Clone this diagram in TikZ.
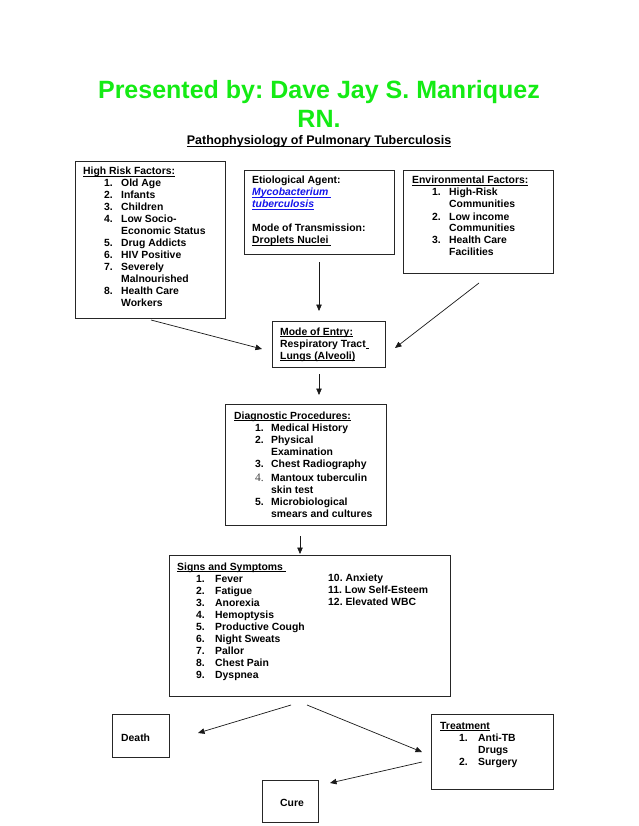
\documentclass[tikz,border=0pt]{standalone}
\usepackage{fontspec}
\setmainfont{Liberation Sans}
\newfontfamily\fourfont{Liberation Serif}
\usetikzlibrary{arrows.meta}
\definecolor{titlegreen}{RGB}{20,235,20}
\definecolor{linkblue}{RGB}{20,20,235}
\newsavebox\ulbox
\newcommand\ulx[1]{\sbox\ulbox{#1}\rlap{\rule[-1.7pt]{\wd\ulbox}{0.7pt}}\usebox\ulbox}
\newlength\numind
\newlength\txtind
\newcommand\li[2]{\makebox[\txtind][l]{\hspace{\numind}#1}#2}
\newcommand\lc[1]{\hspace{\txtind}#1}
\frenchspacing
\begin{document}
\begin{tikzpicture}[x=1pt,y=-1pt,
  box/.style={draw=black!85,line width=0.8pt,inner sep=0pt,anchor=north west},
  txt/.style={inner sep=0pt,anchor=base west,text=black,font=\fontsize{10.4}{12}\selectfont\bfseries},
  arr/.style={draw=black!90,line width=0.7pt,-{Triangle[length=6.5pt,width=5.5pt]}}]
\useasboundingbox[fill=white] (0,0) rectangle (638,826);
% title
\node[inner sep=0pt,anchor=base,text=titlegreen,font=\fontsize{25}{28}\selectfont\bfseries] (title1) at (319,99) {Presented by: Dave Jay S. Manriquez};
\node[inner sep=0pt,anchor=base,text=titlegreen,font=\fontsize{25}{28}\selectfont\bfseries] (title2) at (319,128) {RN.};
\node[inner sep=0pt,anchor=base,font=\fontsize{12.5}{14}\selectfont\bfseries] (sub) at (319,145) {\ulx{Pathophysiology of Pulmonary Tuberculosis}};
% boxes
\node[box,minimum width=150pt,minimum height=157pt] (hrf) at (75,161) {};
\node[box,minimum width=150pt,minimum height=84pt] (ea) at (244,170) {};
\node[box,minimum width=150pt,minimum height=103pt] (envf) at (403,170) {};
\node[box,minimum width=113pt,minimum height=46pt] (moe) at (272,321) {};
\node[box,minimum width=161pt,minimum height=121pt] (dp) at (225,404) {};
\node[box,minimum width=281pt,minimum height=141pt] (ss) at (169,555) {};
\node[box,minimum width=57pt,minimum height=43pt] (death) at (112,714) {};
\node[box,minimum width=122pt,minimum height=75pt] (treat) at (431,714) {};
\node[box,minimum width=56pt,minimum height=42pt] (cure) at (262,780) {};
% texts
\node[txt] (hrft) at (83,175) {\setlength\numind{21pt}\setlength\txtind{38pt}%
\begin{tabular}[t]{@{}l@{}}\ulx{High Risk Factors:}\\ \li{1.}{Old Age}\\ \li{2.}{Infants}\\ \li{3.}{Children}\\ \li{4.}{Low Socio-}\\ \lc{Economic Status}\\ \li{5.}{Drug Addicts}\\ \li{6.}{HIV Positive}\\ \li{7.}{Severely}\\ \lc{Malnourished}\\ \li{8.}{Health Care}\\ \lc{Workers}\end{tabular}};
\node[txt] (eat) at (252,184) {\begin{tabular}[t]{@{}l@{}}Etiological Agent:\\ \textcolor{linkblue}{\ulx{\itshape Mycobacterium\ }}\\ \textcolor{linkblue}{\ulx{\itshape tuberculosis}}\\ \\ Mode of Transmission:\\ \ulx{Droplets Nuclei\ }\end{tabular}};
\node[txt] (envt) at (412,184) {\setlength\numind{20pt}\setlength\txtind{37pt}%
\begin{tabular}[t]{@{}l@{}}\ulx{Environmental Factors:}\\ \li{1.}{High-Risk}\\ \lc{Communities}\\ \li{2.}{Low income}\\ \lc{Communities}\\ \li{3.}{Health Care}\\ \lc{Facilities}\end{tabular}};
\node[txt] (moet) at (280,335) {\begin{tabular}[t]{@{}l@{}}\ulx{Mode of Entry:}\\ Respiratory Tract\ulx{\ }\\ \ulx{Lungs (Alveoli)}\end{tabular}};
\node[txt] (dpt) at (234,419) {\setlength\numind{21pt}\setlength\txtind{37pt}%
\begin{tabular}[t]{@{}l@{}}\ulx{Diagnostic Procedures:}\\ \li{1.}{Medical History}\\ \li{2.}{Physical}\\ \lc{Examination}\\ \li{3.}{Chest Radiography}\\[2pt] \li{{\fourfont\mdseries\fontsize{11.5}{12}\selectfont\color{black!75}4.}}{Mantoux tuberculin}\\ \lc{skin test}\\ \li{5.}{Microbiological}\\ \lc{smears and cultures}\end{tabular}};
\node[txt] (sst) at (177,570) {\setlength\numind{19pt}\setlength\txtind{38pt}%
\begin{tabular}[t]{@{}l@{}}\ulx{Signs and Symptoms\ }\\ \li{1.}{Fever}\\ \li{2.}{Fatigue}\\ \li{3.}{Anorexia}\\ \li{4.}{Hemoptysis}\\ \li{5.}{Productive Cough}\\ \li{6.}{Night Sweats}\\ \li{7.}{Pallor}\\ \li{8.}{Chest Pain}\\ \li{9.}{Dyspnea}\end{tabular}};
\node[txt] (sst2) at (328,581) {\begin{tabular}[t]{@{}l@{}}10. Anxiety\\ 11. Low Self-Esteem\\ 12. Elevated WBC\end{tabular}};
\node[txt] (deatht) at (121,741) {Death};
\node[txt] (treatt) at (440,729) {\setlength\numind{19pt}\setlength\txtind{38pt}%
\begin{tabular}[t]{@{}l@{}}\ulx{Treatment}\\ \li{1.}{Anti-TB}\\ \lc{Drugs}\\ \li{2.}{Surgery}\end{tabular}};
\node[txt] (curet) at (280,806) {Cure};
% arrow ends
\coordinate (a1s) at (319,262); \coordinate (a1e) at (319,311);
\coordinate (a2s) at (151,320); \coordinate (a2e) at (262,349);
\coordinate (a3s) at (479,283); \coordinate (a3e) at (395,348);
\coordinate (a4s) at (319,374); \coordinate (a4e) at (319,395);
\coordinate (a5s) at (300,536); \coordinate (a5e) at (300,554);
\coordinate (a6s) at (291,705); \coordinate (a6e) at (198,733);
\coordinate (a7s) at (307,705); \coordinate (a7e) at (422,752);
\coordinate (a8s) at (422,762); \coordinate (a8e) at (330,783);
\draw[arr] (a1s) -- (a1e);
\draw[arr] (a2s) -- (a2e);
\draw[arr] (a3s) -- (a3e);
\draw[arr] (a4s) -- (a4e);
\draw[arr] (a5s) -- (a5e);
\draw[arr] (a6s) -- (a6e);
\draw[arr] (a7s) -- (a7e);
\draw[arr] (a8s) -- (a8e);
\end{tikzpicture}
\end{document}
